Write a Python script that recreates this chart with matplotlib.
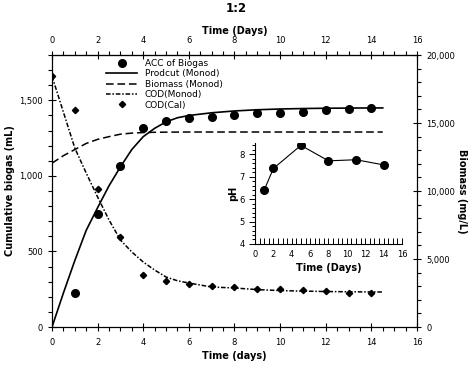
import matplotlib
matplotlib.use("Agg")
import matplotlib.pyplot as plt
from matplotlib.ticker import MultipleLocator, FuncFormatter
from matplotlib.lines import Line2D

# measured biogas (left axis, mL)
days_obs = [1, 2, 3, 4, 5, 6, 7, 8, 9, 10, 11, 12, 13, 14]
biogas_obs = [225, 748, 1066, 1318, 1364, 1384, 1390, 1404, 1417, 1417, 1424, 1437, 1444, 1450]

# model curves
days_fit = [0, 0.5, 1, 1.5, 2, 2.5, 3, 3.5, 4, 4.5, 5, 5.5, 6, 7, 8, 9, 10, 11, 12, 13, 14, 14.5]
product_fit = [0, 225, 440, 640, 790, 935, 1060, 1175, 1260, 1315, 1358, 1385, 1400, 1418, 1430,
               1438, 1443, 1446, 1448, 1449, 1450, 1450]
biomass_fit = [12050, 12600, 13050, 13500, 13800, 14000, 14180, 14260, 14300, 14320, 14330, 14335,
               14340, 14340, 14340, 14340, 14340, 14340, 14340, 14340, 14340, 14340]
cod_fit = [18450, 15800, 13160, 11320, 9560, 7870, 6400, 5515, 4780, 4190, 3676, 3400, 3235, 2940,
           2870, 2750, 2680, 2640, 2610, 2590, 2580, 2575]

# measured COD (right axis, mg/L)
days_cod = [0, 1, 2, 3, 4, 5, 6, 7, 8, 9, 10, 11, 12, 13, 14]
cod_obs = [18450, 15950, 10150, 6620, 3820, 3380, 3160, 3015, 2940, 2790, 2790, 2720, 2650, 2500, 2500]

# pH inset
days_ph = [1, 2, 5, 8, 11, 14]
ph_vals = [6.4, 7.36, 8.39, 7.7, 7.75, 7.52]

plt.rcParams['font.family'] = 'DejaVu Sans'
plt.rcParams['font.size'] = 6

fig = plt.figure(figsize=(4.74, 3.69), dpi=100)
ax = fig.add_axes([0.1097, 0.1138, 0.770, 0.737])
ax2 = ax.twinx()

ax.plot(days_obs, biogas_obs, 'o', color='black', ms=5.5)
ax.plot(days_fit, product_fit, '-', color='black', lw=1.2)
ax2.plot(days_fit, biomass_fit, color='black', lw=1.1, dashes=(5, 2.5))
ax2.plot(days_fit, cod_fit, color='black', lw=1.1, dashes=(3, 1.2, 1, 1.2))
ax2.plot(days_cod, cod_obs, 'D', color='black', ms=3.2)

ax.set_xlim(0, 16)
ax.set_ylim(0, 1800)
ax2.set_ylim(0, 20000)

comma = FuncFormatter(lambda v, p: f"{int(v):,}")
ax.xaxis.set_major_locator(MultipleLocator(2))
ax.xaxis.set_minor_locator(MultipleLocator(0.5))
ax.yaxis.set_major_locator(MultipleLocator(500))
ax.yaxis.set_minor_locator(MultipleLocator(100))
ax.yaxis.set_major_formatter(comma)
ax2.yaxis.set_major_locator(MultipleLocator(5000))
ax2.yaxis.set_minor_locator(MultipleLocator(1000))
ax2.yaxis.set_major_formatter(comma)

for a in (ax, ax2):
    a.tick_params(which='major', direction='inout', length=6, width=0.8)
    a.tick_params(which='minor', direction='out', length=3, width=0.8)
ax.tick_params(axis='x', which='major', pad=5)

top = ax.secondary_xaxis('top')
top.xaxis.set_major_locator(MultipleLocator(2))
top.xaxis.set_minor_locator(MultipleLocator(0.5))
top.tick_params(which='major', direction='inout', length=6, width=0.8, pad=4)
top.tick_params(which='minor', direction='out', length=3, width=0.8)
top.set_xlabel('Time (Days)', fontweight='bold', fontsize=7, labelpad=2)

ax.set_xlabel('Time (days)', fontweight='bold', fontsize=7, labelpad=3)
ax.set_ylabel('Cumulative biogas (mL)', fontweight='bold', fontsize=7, labelpad=3)
ax2.set_ylabel('Biomass (mg/L)', fontweight='bold', fontsize=7, rotation=-90, labelpad=9)
fig.text(0.498, 0.977, '1:2', ha='center', va='center', fontweight='bold', fontsize=8.5)

handles = [
    Line2D([], [], marker='o', ls='none', color='black', ms=5.5),
    Line2D([], [], color='black', lw=1.2),
    Line2D([], [], color='black', lw=1.1, dashes=(5, 2.5)),
    Line2D([], [], color='black', lw=1.1, dashes=(3, 1.2, 1, 1.2)),
    Line2D([], [], marker='D', ls='none', color='black', ms=3.2),
]
labels = ['ACC of Biogas', 'Prodcut (Monod)', 'Biomass (Monod)', 'COD(Monod)', 'COD(Cal)']
ax.legend(handles, labels, loc='upper left', bbox_to_anchor=(0.125, 1.015), frameon=False,
          fontsize=6.5, handlelength=3.5, handletextpad=0.8, labelspacing=0.15)

# inset pH plot
ins = fig.add_axes([0.538, 0.3388, 0.310, 0.274])
ins.plot(days_ph, ph_vals, '-o', color='black', lw=0.8, ms=5.5)
ins.set_xlim(0, 16)
ins.set_ylim(4, 8.5)
ins.patch.set_alpha(0)
ins.spines['top'].set_visible(False)
ins.spines['right'].set_visible(False)
ins.xaxis.set_major_locator(MultipleLocator(2))
ins.xaxis.set_minor_locator(MultipleLocator(0.5))
ins.yaxis.set_major_locator(MultipleLocator(1))
ins.yaxis.set_minor_locator(MultipleLocator(0.2))
ins.tick_params(axis='x', which='both', direction='in', length=4, width=0.7, pad=4)
ins.tick_params(axis='y', which='major', direction='out', length=4, width=0.7)
ins.tick_params(axis='y', which='minor', direction='out', length=2.5, width=0.7)
ins.set_xlabel('Time (Days)', fontweight='bold', fontsize=7, labelpad=3)
ins.set_ylabel('pH', fontweight='bold', fontsize=7, labelpad=1)

fig.savefig('out.png', dpi=100)
